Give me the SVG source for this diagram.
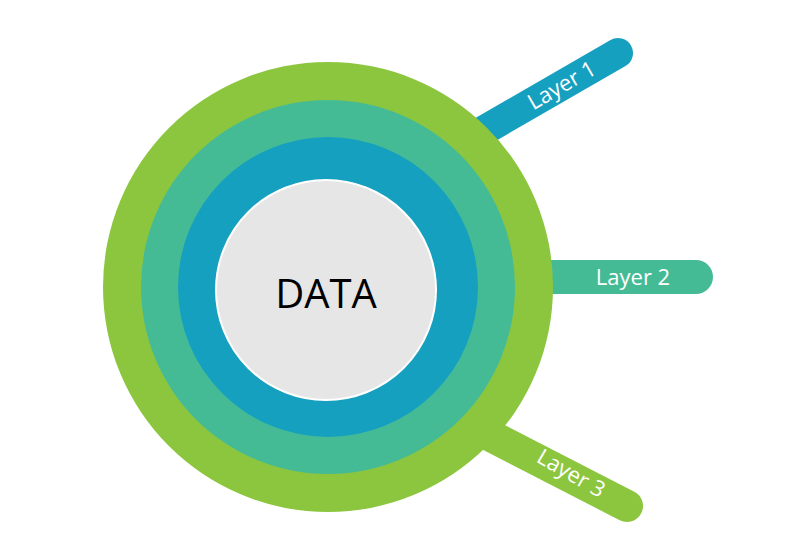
<svg xmlns="http://www.w3.org/2000/svg" width="806" height="559" viewBox="0 0 806 559">
<style>
.lbl{fill:#fff;font-family:"Open Sans",sans-serif;font-size:22px;text-anchor:middle;dominant-baseline:central}
.bar{stroke-linecap:round;fill:none}
</style>
<rect width="806" height="559" fill="#fff"/>
<g id="connectors">
<line class="bar" x1="450" y1="150" x2="618" y2="53" stroke="#16a0c0" stroke-width="30"/>
<line class="bar" x1="520" y1="277" x2="696" y2="277" stroke="#45bb95" stroke-width="34"/>
<line class="bar" x1="460" y1="420" x2="627" y2="506" stroke="#8cc63f" stroke-width="32"/>
</g>
<g id="layer3"><circle cx="328" cy="287" r="225" fill="#8cc63f"/></g>
<g id="layer2"><circle cx="328" cy="287" r="187" fill="#45bb95"/></g>
<g id="layer1"><circle cx="328" cy="287" r="150" fill="#16a0c0"/></g>
<g id="data"><circle cx="326" cy="290" r="110" fill="#e6e6e6" stroke="#fff" stroke-width="2"/>
<text x="326" y="292" font-family="'Open Sans',sans-serif" font-size="40" text-anchor="middle" dominant-baseline="central" fill="#000">DATA</text></g>
<g id="labels">
<text class="lbl" transform="translate(561,84) rotate(-30)">Layer 1</text>
<text class="lbl" x="633" y="276">Layer 2</text>
<text class="lbl" transform="translate(572,472) rotate(30)">Layer 3</text>
</g>
</svg>
